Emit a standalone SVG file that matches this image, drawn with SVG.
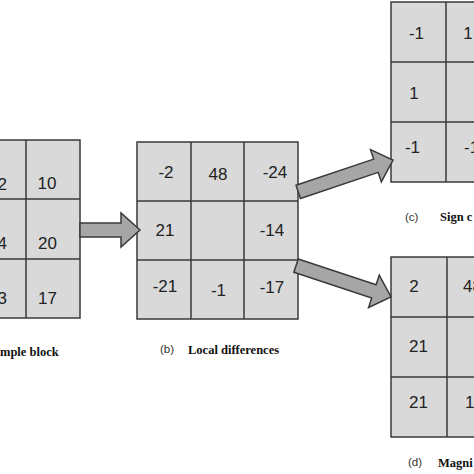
<svg xmlns="http://www.w3.org/2000/svg" width="474" height="474" viewBox="0 0 474 474">
<style>
.cell{fill:#d9d9d9;stroke:#3a3a3a;stroke-width:1.5}
.grid{stroke:#3a3a3a;stroke-width:1.5;fill:none}
.num{font-family:"Liberation Sans",Arial,sans-serif;font-size:17px;fill:#222}
.m{text-anchor:middle}
.cap{font-family:"Liberation Serif","Times New Roman",serif;font-size:12.5px;font-weight:bold;fill:#111}
.lbl{font-family:"Liberation Sans",Arial,sans-serif;font-size:11.5px;fill:#333}
.arrow{fill:#a6a6a6;stroke:#3a3a3a;stroke-width:1.5;stroke-linejoin:miter}
</style>
<defs>
<path id="arr" d="M-100,-7 H-18 V-17 L0,0 L-18,17 V7 H-100 Z"/>
</defs>
<rect width="474" height="474" fill="#fff"/>

<g id="block-a">
<rect class="cell" x="-28" y="140" width="108" height="178"/>
<path class="grid" d="M26,140 V318 M-28,199 H80 M-28,259 H80"/>
<text class="num" x="7" y="190" text-anchor="end">2</text>
<text class="num m" x="47" y="189">10</text>
<text class="num" x="7" y="249" text-anchor="end">4</text>
<text class="num m" x="47.5" y="249">20</text>
<text class="num" x="7" y="304" text-anchor="end">3</text>
<text class="num m" x="47.5" y="304">17</text>
<text class="cap" x="0" y="356">mple block</text>
</g>

<g id="block-b">
<rect class="cell" x="137" y="142" width="161" height="177"/>
<path class="grid" d="M191,142 V319 M244,142 V319 M137,201 H298 M137,260 H298"/>
<text class="num m" x="166" y="178">-2</text>
<text class="num m" x="218" y="180">48</text>
<text class="num m" x="275" y="178">-24</text>
<text class="num m" x="165" y="236">21</text>
<text class="num m" x="272" y="236">-14</text>
<text class="num m" x="165" y="292">-21</text>
<text class="num m" x="218.5" y="296">-1</text>
<text class="num m" x="272" y="293">-17</text>
<text class="lbl" x="160" y="353">(b)</text>
<text class="cap" x="188" y="354">Local differences</text>
</g>

<g id="block-c">
<rect class="cell" x="391" y="2" width="110" height="180"/>
<path class="grid" d="M446,2 V182 M391,62 H501 M391,122 H501"/>
<text class="num m" x="416.5" y="39">-1</text>
<text class="num m" x="468" y="39">1</text>
<text class="num m" x="414" y="99">1</text>
<text class="num m" x="412.5" y="153">-1</text>
<text class="num" x="464" y="153">-1</text>
<text class="lbl" x="405" y="221">(c)</text>
<text class="cap" x="440" y="221">Sign c</text>
</g>

<g id="block-d">
<rect class="cell" x="391" y="257" width="112" height="180"/>
<path class="grid" d="M447,257 V437 M391,317 H503 M391,377 H503"/>
<text class="num m" x="414" y="292">2</text>
<text class="num" x="463" y="292">48</text>
<text class="num m" x="418.5" y="352">21</text>
<text class="num m" x="418.5" y="408">21</text>
<text class="num" x="465" y="408">1</text>
<text class="lbl" x="408" y="466">(d)</text>
<text class="cap" x="438" y="467">Magni</text>
</g>

<g id="connectors">
<path class="arrow" d="M80,223 H121 V213 L140,230 L121,247 V237 H80 Z"/>
<use href="#arr" class="arrow" transform="translate(393,160) rotate(-18.6)"/>
<use href="#arr" class="arrow" transform="translate(391,297) rotate(18.3)"/>
</g>
</svg>
